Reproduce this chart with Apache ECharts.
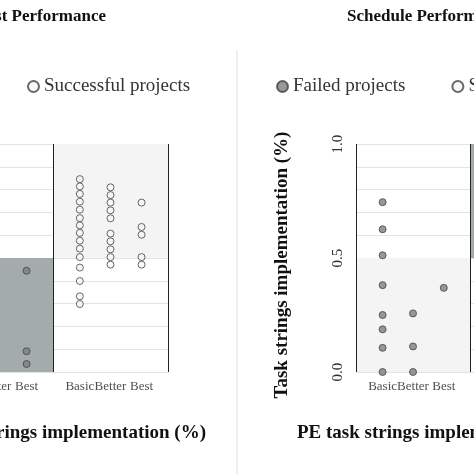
<!DOCTYPE html>
<html><head><meta charset="utf-8">
<script src="https://cdn.jsdelivr.net/npm/echarts@6/dist/echarts.min.js"></script>
<style>html,body{margin:0;padding:0;background:#fff}#c{width:474px;height:474px}</style>
</head><body><div id="c"></div>
<script>
var categories = ['Basic','Better','Best'];
var yTicks = [0.0, 0.5, 1.0];
// Cost panel (left): failed group (first half) and successful group (second half)
var costFailed = {Basic: [], Better: [], Best: [0.444, 0.091, 0.035]};
var costSuccess = {
  Basic: [0.846,0.814,0.781,0.747,0.712,0.675,0.643,0.610,0.576,0.541,0.504,0.458,0.399,0.332,0.298],
  Better: [0.810,0.776,0.743,0.709,0.674,0.607,0.573,0.538,0.504,0.471],
  Best: [0.743,0.636,0.602,0.504,0.471]
};
// Schedule panel (right): failed group (first half)
var schedFailed = {
  Basic: [0.745,0.626,0.512,0.381,0.250,0.187,0.106,0.0],
  Better: [0.257,0.112,0.0],
  Best: [0.369]
};
var catOffset = [0.70, 1.50, 2.31];
function pts(obj, half){
  var out=[];
  categories.forEach(function(c,i){ (obj[c]||[]).forEach(function(v){ out.push([half*3+catOffset[i], v]); }); });
  return out;
}
var serif = '"Liberation Serif","DejaVu Serif",serif';
var hollow = {symbol:'circle', symbolSize:7, itemStyle:{color:'#f6f6f6', borderColor:'#444', borderWidth:1}};
var solid = {symbol:'circle', symbolSize:7, itemStyle:{color:'#7a7f7f', borderColor:'#444', borderWidth:1}};
function labelSeries(ai){
  var d=[];
  [0,1].forEach(function(h){ categories.forEach(function(c,i){ d.push({value:[h*3+catOffset[i],0], name:c}); }); });
  return {type:'scatter', xAxisIndex:ai, yAxisIndex:ai, data:d, symbolSize:2, itemStyle:{color:'rgba(0,0,0,0)'}, silent:true, clip:false, z:6,
    labelLayout:{hideOverlap:false},
    label:{show:true, position:'bottom', distance:7, formatter:function(p){return p.name;}, fontFamily:serif, fontSize:13, color:'#222'}};
}
function xAx(gi, mn, mx){
  return {type:'value', gridIndex:gi, min:mn, max:mx, axisLine:{show:false}, axisTick:{show:false}, splitLine:{show:false}, axisLabel:{show:false}};
}
function yAx(gi, showLabel){
  return {type:'value', gridIndex:gi, min:0, max:1, interval:0.1, axisLine:{show:false}, axisTick:{show:false},
    splitLine:{show:true, lineStyle:{color:'#e4e4e4'}},
    axisLabel:{show:showLabel, customValues:yTicks, formatter:function(v){return v.toFixed(1);}, rotate:90, fontFamily:serif, fontSize:15, color:'#333', margin:10}};
}
function frame(areas){
  return {type:'scatter', xAxisIndex:0, yAxisIndex:0, data:[], silent:true,
    markArea:{silent:true, data:areas},
    markLine:{silent:true, symbol:'none', label:{show:false}, lineStyle:{color:'#222', type:'solid', width:1},
      data:[[{coord:[0,0]},{coord:[6,0]}],[{coord:[0,1]},{coord:[6,1]}],[{coord:[0,0]},{coord:[0,1]}],[{coord:[6,0]},{coord:[6,1]}],
            [{coord:[3,0]},{coord:[3,1]}],[{coord:[0,0.5]},{coord:[6,0.5]}]]}};
}
var light='#f4f4f4', dark='#a3abab';
var leftFrame = frame([
  [{coord:[3,0.5],itemStyle:{color:light}},{coord:[6,1]}],
  [{coord:[1.617,0],itemStyle:{color:dark}},{coord:[3,0.5]}]
]);
var rightFrame = frame([
  [{coord:[0,0],itemStyle:{color:light}},{coord:[3,0.5]}],
  [{coord:[3,0.5],itemStyle:{color:dark}},{coord:[3.105,1]}]
]);
rightFrame.xAxisIndex=1; rightFrame.yAxisIndex=1;
var chart = echarts.init(document.getElementById('c'));
chart.setOption({
  animation:false,
  grid:[{left:0, top:144, width:168, height:228},{left:356, top:144, width:118, height:228}],
  xAxis:[xAx(0,1.617,6), xAx(1,0,3.105)],
  yAxis:[yAx(0,false), yAx(1,true)],
  legend:[
    {data:['Successful projects'], left:22, top:72, itemWidth:11, itemHeight:11, textStyle:{fontFamily:serif, fontSize:19, color:'#333'}},
    {data:['Failed projects','Successful projects '], left:271, top:72, width:600, itemGap:46, itemWidth:11, itemHeight:11, textStyle:{fontFamily:serif, fontSize:19, color:'#333'}}
  ],
  series:[
    leftFrame, rightFrame, labelSeries(0), labelSeries(1),
    Object.assign({type:'scatter', name:'Successful projects', xAxisIndex:0, yAxisIndex:0, data:pts(costSuccess,1), z:5}, hollow),
    Object.assign({type:'scatter', name:'Failed projects', xAxisIndex:0, yAxisIndex:0, data:pts(costFailed,0), z:5}, solid),
    Object.assign({type:'scatter', name:'Failed projects', xAxisIndex:1, yAxisIndex:1, data:pts(schedFailed,0), z:5}, solid),
    Object.assign({type:'scatter', name:'Successful projects ', xAxisIndex:1, yAxisIndex:1, data:[], z:5}, hollow)
  ],
  graphic:[
    {type:'line', shape:{x1:237,y1:50,x2:237,y2:474}, style:{stroke:'#e0e0e0', lineWidth:1}},
    {type:'text', x:106, y:8, style:{text:'Cost Performance', align:'right', font:'bold 17px '+serif, fill:'#111'}},
    {type:'text', x:347, y:8, style:{text:'Schedule Performance', align:'left', font:'bold 17px '+serif, fill:'#111'}},
    {type:'text', x:206, y:424, style:{text:'PE task strings implementation (%)', align:'right', font:'bold 19px '+serif, fill:'#111'}},
    {type:'text', x:297, y:424, style:{text:'PE task strings implementation (%)', align:'left', font:'bold 19px '+serif, fill:'#111'}},
    {type:'text', x:282, y:265, rotation:Math.PI/2, style:{text:'Task strings implementation (%)', align:'center', verticalAlign:'middle', font:'bold 19px '+serif, fill:'#111'}}
  ]
});
</script></body></html>
